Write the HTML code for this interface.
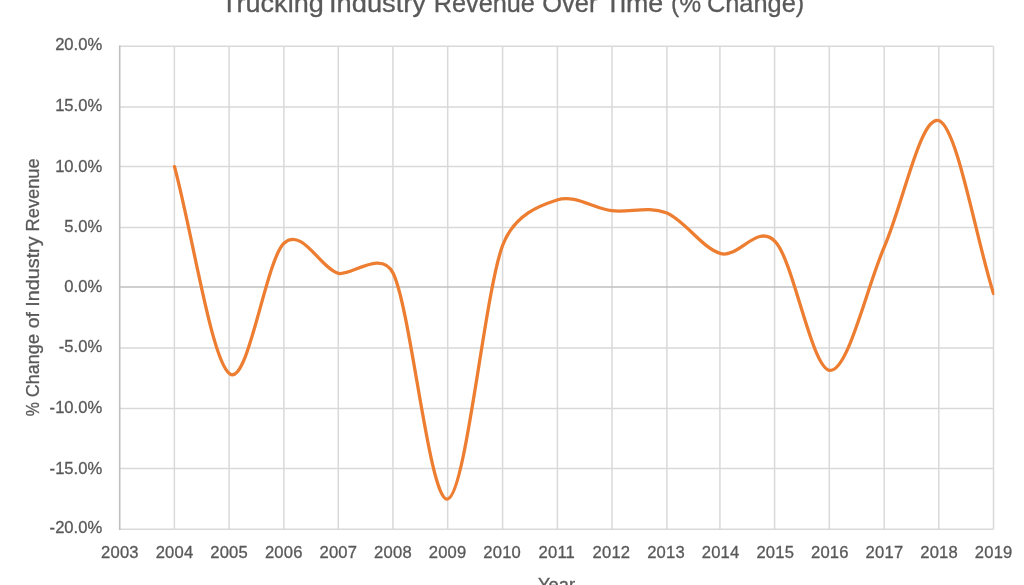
<!DOCTYPE html>
<html lang="en">
<head>
<meta charset="utf-8">
<title>Trucking Industry Revenue Over Time (% Change)</title>
<style>
html,body{margin:0;padding:0;background:#fff;}
body{width:1024px;height:585px;overflow:hidden;}
svg{display:block;}
text{font-family:'Liberation Sans', Arial, sans-serif;fill:#595959;stroke:#595959;stroke-width:0.3px;}
.tick{font-size:16.6px;}
.xt{letter-spacing:0.2px;}
</style>
</head>
<body>
<svg width="1024" height="585" viewBox="0 0 1024 585">
<rect x="0" y="0" width="1024" height="585" fill="#ffffff"/>
<g stroke="#d9d9d9" stroke-width="1.5" fill="none">
<line x1="119.70" y1="46.20" x2="993.50" y2="46.20"/>
<line x1="119.70" y1="106.90" x2="993.50" y2="106.90"/>
<line x1="119.70" y1="166.60" x2="993.50" y2="166.60"/>
<line x1="119.70" y1="227.40" x2="993.50" y2="227.40"/>
<line x1="119.70" y1="347.90" x2="993.50" y2="347.90"/>
<line x1="119.70" y1="408.60" x2="993.50" y2="408.60"/>
<line x1="119.70" y1="468.50" x2="993.50" y2="468.50"/>
<line x1="119.70" y1="529.30" x2="993.50" y2="529.30"/>
<line x1="174.40" y1="46.20" x2="174.40" y2="529.30"/>
<line x1="229.10" y1="46.20" x2="229.10" y2="529.30"/>
<line x1="283.90" y1="46.20" x2="283.90" y2="529.30"/>
<line x1="338.30" y1="46.20" x2="338.30" y2="529.30"/>
<line x1="392.90" y1="46.20" x2="392.90" y2="529.30"/>
<line x1="447.70" y1="46.20" x2="447.70" y2="529.30"/>
<line x1="502.60" y1="46.20" x2="502.60" y2="529.30"/>
<line x1="557.40" y1="46.20" x2="557.40" y2="529.30"/>
<line x1="612.00" y1="46.20" x2="612.00" y2="529.30"/>
<line x1="666.90" y1="46.20" x2="666.90" y2="529.30"/>
<line x1="719.90" y1="46.20" x2="719.90" y2="529.30"/>
<line x1="774.60" y1="46.20" x2="774.60" y2="529.30"/>
<line x1="829.30" y1="46.20" x2="829.30" y2="529.30"/>
<line x1="884.20" y1="46.20" x2="884.20" y2="529.30"/>
<line x1="938.80" y1="46.20" x2="938.80" y2="529.30"/>
<line x1="993.50" y1="46.20" x2="993.50" y2="529.30"/>
</g>
<line x1="119.70" y1="45.45" x2="119.70" y2="530.05" stroke="#bfbfbf" stroke-width="1.6"/>
<line x1="119.70" y1="287.00" x2="993.50" y2="287.00" stroke="#bfbfbf" stroke-width="1.6"/>
<clipPath id="plot"><rect x="116.70" y="43.20" width="877.60" height="489.10"/></clipPath>
<path clip-path="url(#plot)" d="M174.50 166.60 C192.94 235.70 211.59 361.12 229.83 373.90 C248.06 386.68 265.82 260.05 283.94 243.30 C302.06 226.55 320.35 268.40 338.55 273.40 C350.45 276.67 381.26 248.72 393.16 273.30 C411.37 310.90 429.57 503.55 447.77 499.00 C465.98 494.45 484.18 295.83 502.39 246.00 C514.64 212.47 544.75 203.96 557.00 200.00 C575.20 194.12 593.41 208.57 611.61 210.70 C629.82 212.83 648.02 205.65 666.23 212.80 C684.43 219.95 702.63 248.77 720.84 253.60 C739.04 258.43 757.25 222.35 775.45 241.80 C793.65 261.25 811.86 369.60 830.06 370.30 C848.27 371.00 866.47 287.58 884.67 246.00 C902.88 204.42 921.15 112.87 939.29 120.80 C957.43 128.73 975.43 236.00 993.50 293.60" fill="none" stroke="#ed7d31" stroke-width="3.3" stroke-linecap="round" stroke-linejoin="round"/>
<g class="tick" text-anchor="end">
<text x="102.20" y="49.70">20.0%</text>
<text x="102.20" y="110.90">15.0%</text>
<text x="102.20" y="172.10">10.0%</text>
<text x="102.20" y="231.50">5.0%</text>
<text x="102.20" y="292.30">0.0%</text>
<text x="102.20" y="351.60">-5.0%</text>
<text x="102.20" y="412.90">-10.0%</text>
<text x="102.20" y="473.90">-15.0%</text>
<text x="102.20" y="533.20">-20.0%</text>
</g>
<g class="tick xt" text-anchor="middle">
<text x="119.90" y="557.90">2003</text>
<text x="174.51" y="557.90">2004</text>
<text x="229.12" y="557.90">2005</text>
<text x="283.74" y="557.90">2006</text>
<text x="338.35" y="557.90">2007</text>
<text x="392.96" y="557.90">2008</text>
<text x="447.57" y="557.90">2009</text>
<text x="502.19" y="557.90">2010</text>
<text x="556.80" y="557.90">2011</text>
<text x="611.41" y="557.90">2012</text>
<text x="666.03" y="557.90">2013</text>
<text x="720.64" y="557.90">2014</text>
<text x="775.25" y="557.90">2015</text>
<text x="829.86" y="557.90">2016</text>
<text x="884.48" y="557.90">2017</text>
<text x="939.09" y="557.90">2018</text>
<text x="993.70" y="557.90">2019</text>
</g>
<text y="12.20" font-size="25.5"><tspan x="221.09" textLength="102.62" lengthAdjust="spacingAndGlyphs">Trucking</tspan> <tspan x="328.99" textLength="96.97" lengthAdjust="spacingAndGlyphs">Industry</tspan> <tspan x="433.78" textLength="101.06" lengthAdjust="spacingAndGlyphs">Revenue</tspan> <tspan x="542.34" textLength="55.03" lengthAdjust="spacingAndGlyphs">Over</tspan> <tspan x="604.77" textLength="58.49" lengthAdjust="spacingAndGlyphs">Time</tspan> <tspan x="671.08" textLength="30.04" lengthAdjust="spacingAndGlyphs">(%</tspan> <tspan x="706.95" textLength="97.24" lengthAdjust="spacingAndGlyphs">Change)</tspan></text>
<text transform="translate(38.90 0) rotate(-90)" y="0" font-size="18.3"><tspan x="-416.16" textLength="14.17" lengthAdjust="spacingAndGlyphs">%</tspan> <tspan x="-397.22" textLength="63.14" lengthAdjust="spacingAndGlyphs">Change</tspan> <tspan x="-328.31" textLength="16.30" lengthAdjust="spacingAndGlyphs">of</tspan> <tspan x="-306.77" textLength="70.37" lengthAdjust="spacingAndGlyphs">Industry</tspan> <tspan x="-231.47" textLength="73.13" lengthAdjust="spacingAndGlyphs">Revenue</tspan></text>
<text x="556.60" y="591.40" font-size="17.6" text-anchor="middle" textLength="37" lengthAdjust="spacingAndGlyphs">Year</text>
</svg>
</body>
</html>
